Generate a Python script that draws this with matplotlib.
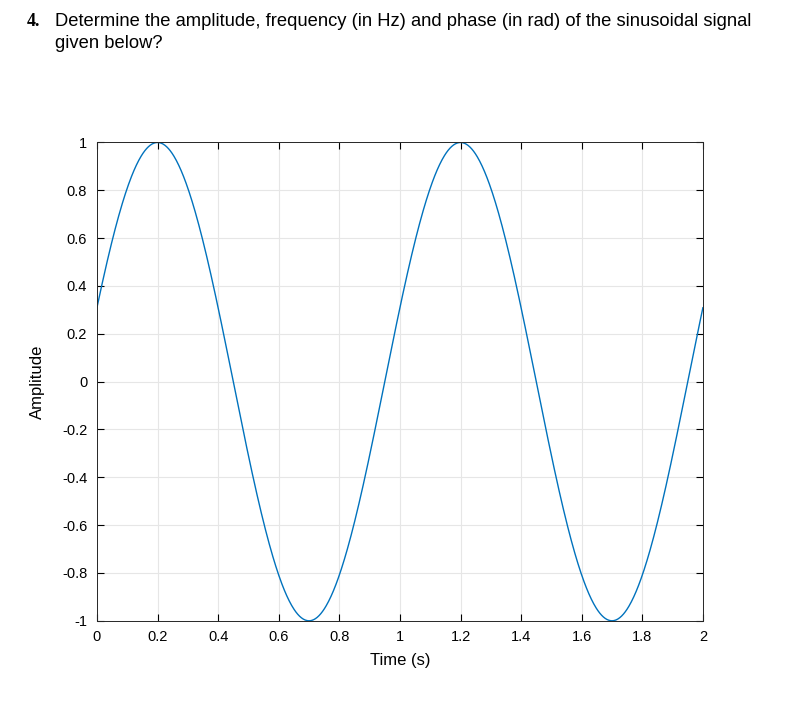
import numpy as np
import matplotlib.pyplot as plt

plt.rcParams['font.family'] = ['Liberation Sans', 'DejaVu Sans']

# signal: peaks at t=0.2 and 1.2, value 0.31 at t=0
amplitude = 1.0
freq_hz = 1.0
phase_rad = 0.1 * np.pi
t_start, t_end = 0.0, 2.0

x_ticks = [0, 0.2, 0.4, 0.6, 0.8, 1, 1.2, 1.4, 1.6, 1.8, 2]
x_tick_labels = ['0', '0.2', '0.4', '0.6', '0.8', '1', '1.2', '1.4', '1.6', '1.8', '2']
y_ticks = [-1, -0.8, -0.6, -0.4, -0.2, 0, 0.2, 0.4, 0.6, 0.8, 1]
y_tick_labels = ['-1', '-0.8', '-0.6', '-0.4', '-0.2', '0', '0.2', '0.4', '0.6', '0.8', '1']

t = np.linspace(t_start, t_end, 1000)
y = amplitude * np.sin(2 * np.pi * freq_hz * t + phase_rad)

fig = plt.figure(figsize=(7.88, 7.16), dpi=100)
ax = fig.add_axes([0.123, 0.133, 0.769, 0.668])

ax.plot(t, y, color='#0072BD', linewidth=1.0)
ax.set_xlim(0, 2)
ax.set_ylim(-1, 1)
ax.set_xticks(x_ticks)
ax.set_xticklabels(x_tick_labels)
ax.set_yticks(y_ticks)
ax.set_yticklabels(y_tick_labels)
ax.grid(True, color='#e6e6e6', linewidth=0.8)
ax.set_axisbelow(True)
ax.tick_params(direction='in', top=True, right=True, labelsize=10.5, length=5, pad=7)
for s in ax.spines.values():
    s.set_color('#262626')
    s.set_linewidth(0.7)
ax.set_xlabel('Time (s)', fontsize=12, labelpad=6)
ax.set_ylabel('Amplitude', fontsize=12, labelpad=12)

# question text above the plot
fig.text(27 / 788, 1 - 21 / 716, '4.', fontsize=13, fontweight='bold',
         family='Liberation Serif', va='center')
fig.text(55 / 788, 1 - 21 / 716,
         'Determine the amplitude, frequency (in Hz) and phase (in rad) of the sinusoidal signal',
         fontsize=13.2, va='center')
fig.text(55 / 788, 1 - 43 / 716, 'given below?', fontsize=13.2, va='center')

fig.savefig('out.png', dpi=100)
